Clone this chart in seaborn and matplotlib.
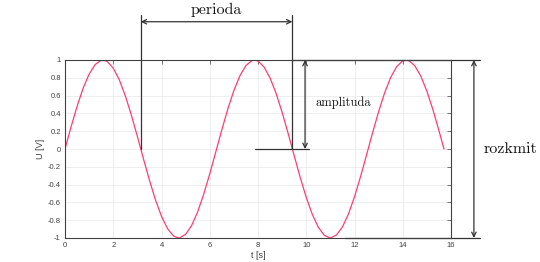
import matplotlib
matplotlib.use("Agg")
import matplotlib.pyplot as plt
import seaborn as sns
import pandas as pd

# data (sine wave, t in seconds)
t_vals = [0.0, 0.25, 0.5, 0.75, 1.0, 1.25, 1.5, 1.571, 1.75, 2.0, 2.25, 2.5, 2.75, 3.0, 3.25,
          3.5, 3.75, 4.0, 4.25, 4.5, 4.712, 4.75, 5.0, 5.25, 5.5, 5.75, 6.0, 6.25, 6.5, 6.75,
          7.0, 7.25, 7.5, 7.75, 7.854, 8.0, 8.25, 8.5, 8.75, 9.0, 9.25, 9.5, 9.75, 10.0, 10.25,
          10.5, 10.75, 10.996, 11.0, 11.25, 11.5, 11.75, 12.0, 12.25, 12.5, 12.75, 13.0, 13.25,
          13.5, 13.75, 14.0, 14.137, 14.25, 14.5, 14.75, 15.0, 15.25, 15.5, 15.71]
u_vals = [0.0, 0.247, 0.479, 0.682, 0.841, 0.949, 0.997, 1.0, 0.984, 0.909, 0.778, 0.598, 0.382,
          0.141, -0.108, -0.351, -0.572, -0.757, -0.895, -0.978, -1.0, -0.999, -0.959, -0.859,
          -0.706, -0.508, -0.279, -0.033, 0.215, 0.450, 0.657, 0.823, 0.938, 0.994, 1.0, 0.989,
          0.922, 0.798, 0.625, 0.412, 0.174, -0.075, -0.320, -0.544, -0.734, -0.880, -0.970,
          -1.0, -1.0, -0.967, -0.876, -0.730, -0.537, -0.311, -0.066, 0.183, 0.420, 0.632, 0.804,
          0.926, 0.991, 1.0, 0.994, 0.935, 0.818, 0.650, 0.443, 0.206, 0.0]
x_ticks = [0, 2, 4, 6, 8, 10, 12, 14, 16]
y_ticks = [-1, -0.8, -0.6, -0.4, -0.2, 0, 0.2, 0.4, 0.6, 0.8, 1]
y_tick_labels = ["-1", "-0.8", "-0.6", "-0.4", "-0.2", "0", "0.2", "0.4", "0.6", "0.8", "1"]

# annotation anchors (data units)
period_start, period_end = 3.1416, 9.4248
amp_x = 9.95
rozkmit_x = 16.95

sns.set_style("white")
plt.rcParams["font.family"] = ["Liberation Sans", "DejaVu Sans"]

df = pd.DataFrame({"t": t_vals, "u": u_vals})

fig = plt.figure(figsize=(5.4, 2.62), dpi=100)
ax = fig.add_axes([65 / 540, 24 / 262, 386 / 540, 178 / 262])
sns.lineplot(data=df, x="t", y="u", ax=ax, color="#ff3d6e", linewidth=0.9)

ax.set_xlim(0, 16)
ax.set_ylim(-1, 1)
ax.set_xticks(x_ticks)
ax.set_xticklabels([str(v) for v in x_ticks])
ax.set_yticks(y_ticks)
ax.set_yticklabels(y_tick_labels)
ax.grid(True, color="#e8e8e8", linewidth=0.5)
ax.tick_params(direction="in", length=3, width=0.5, labelsize=5.5, colors="#404040",
               top=True, right=True, labeltop=False, labelright=False, pad=3)
for s in ax.spines.values():
    s.set_color("#404040")
    s.set_linewidth(0.8)
ax.set_xlabel("t [s]", fontsize=6.5, color="#404040", labelpad=1)
ax.set_ylabel("U [V]", fontsize=6.5, color="#404040", labelpad=2)

lc = "#333333"
lw = 0.9
serif = "cmr10"

# perioda
ax.plot([period_start, period_start], [0, 1.51], color=lc, lw=lw, clip_on=False)
ax.plot([period_end, period_end], [0, 1.51], color=lc, lw=lw, clip_on=False)
ax.annotate("", xy=(period_start, 1.43), xytext=(period_end, 1.43),
            arrowprops=dict(arrowstyle="<->", color=lc, lw=lw, shrinkA=0, shrinkB=0,
                            mutation_scale=8), annotation_clip=False)
ax.text((period_start + period_end) / 2, 1.48, "perioda", ha="center", va="bottom",
        fontsize=11.5, family=serif, color="#111111", clip_on=False)

# amplituda
ax.plot([7.88, 10.12], [0, 0], color=lc, lw=lw, clip_on=False)
ax.plot([9.4, 17.2], [1, 1], color=lc, lw=lw, clip_on=False)
ax.plot([11.6, 17.2], [-1, -1], color=lc, lw=lw, clip_on=False)
ax.annotate("", xy=(amp_x, 1), xytext=(amp_x, 0),
            arrowprops=dict(arrowstyle="<->", color=lc, lw=lw, shrinkA=0, shrinkB=0,
                            mutation_scale=8), annotation_clip=False)
ax.text(amp_x + 0.45, 0.52, "amplituda", ha="left", va="center",
        fontsize=9, family=serif, color="#111111")

# rozkmit
ax.annotate("", xy=(rozkmit_x, 1), xytext=(rozkmit_x, -1),
            arrowprops=dict(arrowstyle="<->", color=lc, lw=lw, shrinkA=0, shrinkB=0,
                            mutation_scale=8), annotation_clip=False)
ax.text(17.35, 0.0, "rozkmit", ha="left", va="center",
        fontsize=11.5, family=serif, color="#111111", clip_on=False)

fig.savefig("out.png", dpi=100)
